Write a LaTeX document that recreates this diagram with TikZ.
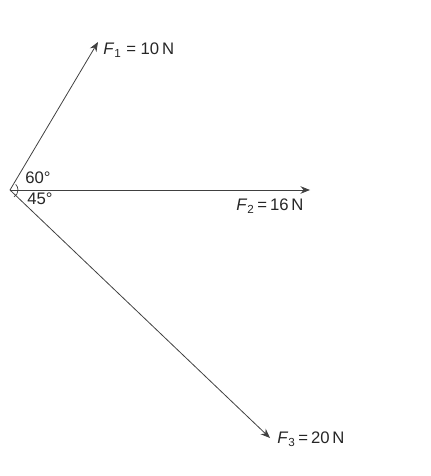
\documentclass[tikz,border=0pt]{standalone}
\usepackage{fontspec}
\setmainfont{Liberation Sans}
\usepackage{tikz}
\usetikzlibrary{arrows.meta}

\begin{document}
\begin{tikzpicture}[x=0.02cm, y=-0.02cm,
		force/.style={draw, line width=0.45pt, color=black!75, -{Stealth[length=1.9mm, width=1.5mm]}},
		lbl/.style={inner sep=0pt, font=\fontsize{9.5}{11.4}\selectfont, text=black!85}]
		\useasboundingbox (0,0) rectangle (430,476);
		
		\coordinate (O) at (10,190);
		\coordinate (f1) at (98,42);
		\coordinate (f2) at (310,190);
		\coordinate (f3) at (270,438);
		
		\path [force] (O) -- (f1);
		\path [force] (O) -- (f2);
		\path [force] (O) -- (f3);
		
		% angle arc
		\draw [line width=0.4pt, color=black!75] (O) ++(60:8) arc[start angle=60, end angle=-45, radius=8];
		
		\node[lbl, anchor=west] (lf1) at (103,50) {\textit{F}\textsubscript{1}\;=\;10\,N};
		\node[lbl, anchor=west] (lf2) at (236,206) {\textit{F}\textsubscript{2}\,=\,16\,N};
		\node[lbl, anchor=west] (lf3) at (277,439) {\textit{F}\textsubscript{3}\,=\,20\,N};
		\node[lbl, anchor=west] (a60) at (25,178) {60°};
		\node[lbl, anchor=west] (a45) at (27,199) {45°};
\end{tikzpicture}
\end{document}
